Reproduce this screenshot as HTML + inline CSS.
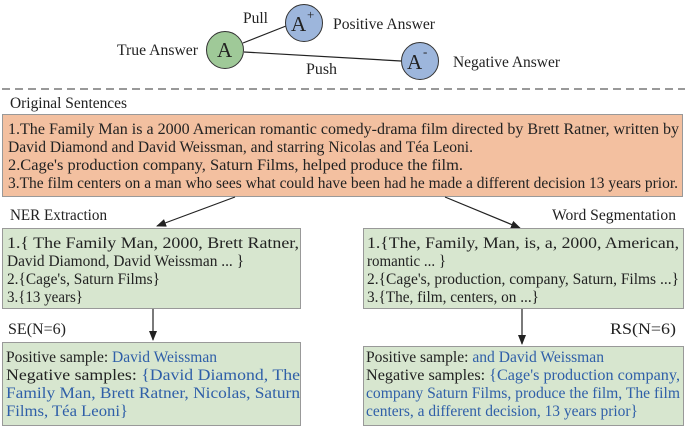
<!DOCTYPE html>
<html><head><meta charset="utf-8"><style>
html,body{margin:0;padding:0;background:#fff;}
svg{display:block;}
text{font-family:"Liberation Serif",serif;font-size:16px;fill:#222;}
.b{fill:#2f5fa8;}
</style></head><body>
<svg width="685" height="428" viewBox="0 0 685 428" xmlns="http://www.w3.org/2000/svg">
<defs><marker id="ar" markerWidth="10" markerHeight="10" refX="9" refY="5" orient="auto" markerUnits="userSpaceOnUse"><path d="M0,1 L10,5 L0,9 Z" fill="#222"/></marker></defs>
<line x1="243" y1="43" x2="286" y2="26" stroke="#222" stroke-width="1.2"/>
<line x1="244" y1="52" x2="401" y2="61" stroke="#222" stroke-width="1.2"/>
<circle cx="225" cy="50" r="18.5" fill="#9fc998" stroke="#333" stroke-width="1"/>
<circle cx="304" cy="23" r="18.5" fill="#9db6dc" stroke="#333" stroke-width="1"/>
<circle cx="420" cy="61" r="18.5" fill="#9db6dc" stroke="#333" stroke-width="1"/>
<text x="217" y="57" style="font-size:21px">A</text>
<text x="291" y="31" style="font-size:21px">A</text><text x="307" y="19" style="font-size:13px">+</text>
<text x="407" y="69" style="font-size:21px">A</text><text x="423" y="56" style="font-size:13px">-</text>
<text x="243" y="23" textLength="25" lengthAdjust="spacingAndGlyphs">Pull</text>
<text x="333" y="29" textLength="102" lengthAdjust="spacingAndGlyphs">Positive Answer</text>
<text x="117" y="55" textLength="81" lengthAdjust="spacingAndGlyphs">True Answer</text>
<text x="306" y="74" textLength="31" lengthAdjust="spacingAndGlyphs">Push</text>
<text x="453" y="67" textLength="107" lengthAdjust="spacingAndGlyphs">Negative Answer</text>
<line x1="2" y1="89" x2="685" y2="89" stroke="#333" stroke-width="1" stroke-dasharray="8,5"/>
<text x="10" y="108" textLength="117" lengthAdjust="spacingAndGlyphs">Original Sentences</text>
<rect x="2.5" y="114.5" width="680" height="82" fill="#f3c0a0" stroke="#999"/>
<text x="8" y="134" textLength="671" lengthAdjust="spacingAndGlyphs">1.The Family Man is a 2000 American romantic comedy-drama film directed by Brett Ratner, written by</text>
<text x="8" y="152" textLength="465" lengthAdjust="spacingAndGlyphs">David Diamond and David Weissman, and starring Nicolas and Téa Leoni.</text>
<text x="8" y="170" textLength="455" lengthAdjust="spacingAndGlyphs">2.Cage's production company, Saturn Films, helped produce the film.</text>
<text x="8" y="188" textLength="670" lengthAdjust="spacingAndGlyphs">3.The film centers on a man who sees what could have been had he made a different decision 13 years prior.</text>
<line x1="235" y1="197" x2="157" y2="226" stroke="#222" stroke-width="1.2" marker-end="url(#ar)"/>
<line x1="445" y1="197" x2="520" y2="228" stroke="#222" stroke-width="1.2" marker-end="url(#ar)"/>
<text x="10" y="220" textLength="97" lengthAdjust="spacingAndGlyphs">NER Extraction</text>
<text x="552" y="220" textLength="124" lengthAdjust="spacingAndGlyphs">Word Segmentation</text>
<rect x="2.5" y="228.5" width="298" height="80" fill="#d7e6cf" stroke="#999"/>
<rect x="363.5" y="228.5" width="320" height="80" fill="#d7e6cf" stroke="#999"/>
<text x="7" y="248" textLength="292" lengthAdjust="spacingAndGlyphs">1.{ The Family Man, 2000, Brett Ratner,</text>
<text x="7" y="266" textLength="237" lengthAdjust="spacingAndGlyphs">David Diamond, David Weissman ... }</text>
<text x="7" y="284" textLength="153" lengthAdjust="spacingAndGlyphs">2.{Cage's, Saturn Films}</text>
<text x="7" y="302" textLength="76" lengthAdjust="spacingAndGlyphs">3.{13 years}</text>
<text x="367" y="248" textLength="312" lengthAdjust="spacingAndGlyphs">1.{The, Family, Man, is,  a, 2000, American,</text>
<text x="367" y="266" textLength="79" lengthAdjust="spacingAndGlyphs">romantic ... }</text>
<text x="367" y="284" textLength="312" lengthAdjust="spacingAndGlyphs">2.{Cage's, production, company, Saturn, Films ...}</text>
<text x="367" y="302" textLength="172" lengthAdjust="spacingAndGlyphs">3.{The, film, centers, on ...}</text>
<line x1="153" y1="309" x2="153" y2="340" stroke="#222" stroke-width="1.2" marker-end="url(#ar)"/>
<line x1="522" y1="309" x2="522" y2="344" stroke="#222" stroke-width="1.2" marker-end="url(#ar)"/>
<text x="8" y="334" textLength="58" lengthAdjust="spacingAndGlyphs">SE(N=6)</text>
<text x="610" y="334" textLength="66" lengthAdjust="spacingAndGlyphs">RS(N=6)</text>
<rect x="2.5" y="342.5" width="298" height="83" fill="#d7e6cf" stroke="#999"/>
<rect x="363.5" y="346.5" width="320" height="79" fill="#d7e6cf" stroke="#999"/>
<text x="6" y="362" textLength="211" lengthAdjust="spacingAndGlyphs">Positive sample: <tspan class="b">David Weissman</tspan></text>
<text x="6" y="380" textLength="294" lengthAdjust="spacingAndGlyphs">Negative samples:  <tspan class="b">{David Diamond,  The</tspan></text>
<text x="6" y="398" class="b" textLength="294" lengthAdjust="spacingAndGlyphs">Family Man,  Brett Ratner, Nicolas, Saturn</text>
<text x="6" y="416" class="b" textLength="122" lengthAdjust="spacingAndGlyphs">Films, Téa Leoni}</text>
<text x="366" y="362" textLength="238" lengthAdjust="spacingAndGlyphs">Positive sample: <tspan class="b">and David Weissman</tspan></text>
<text x="366" y="380" textLength="314" lengthAdjust="spacingAndGlyphs">Negative samples: <tspan class="b">{Cage's production company,</tspan></text>
<text x="366" y="398" class="b" textLength="314" lengthAdjust="spacingAndGlyphs">company Saturn Films, produce the film, The film</text>
<text x="366" y="416" class="b" textLength="272" lengthAdjust="spacingAndGlyphs">centers, a different decision, 13 years prior}</text>
</svg>
</body></html>
